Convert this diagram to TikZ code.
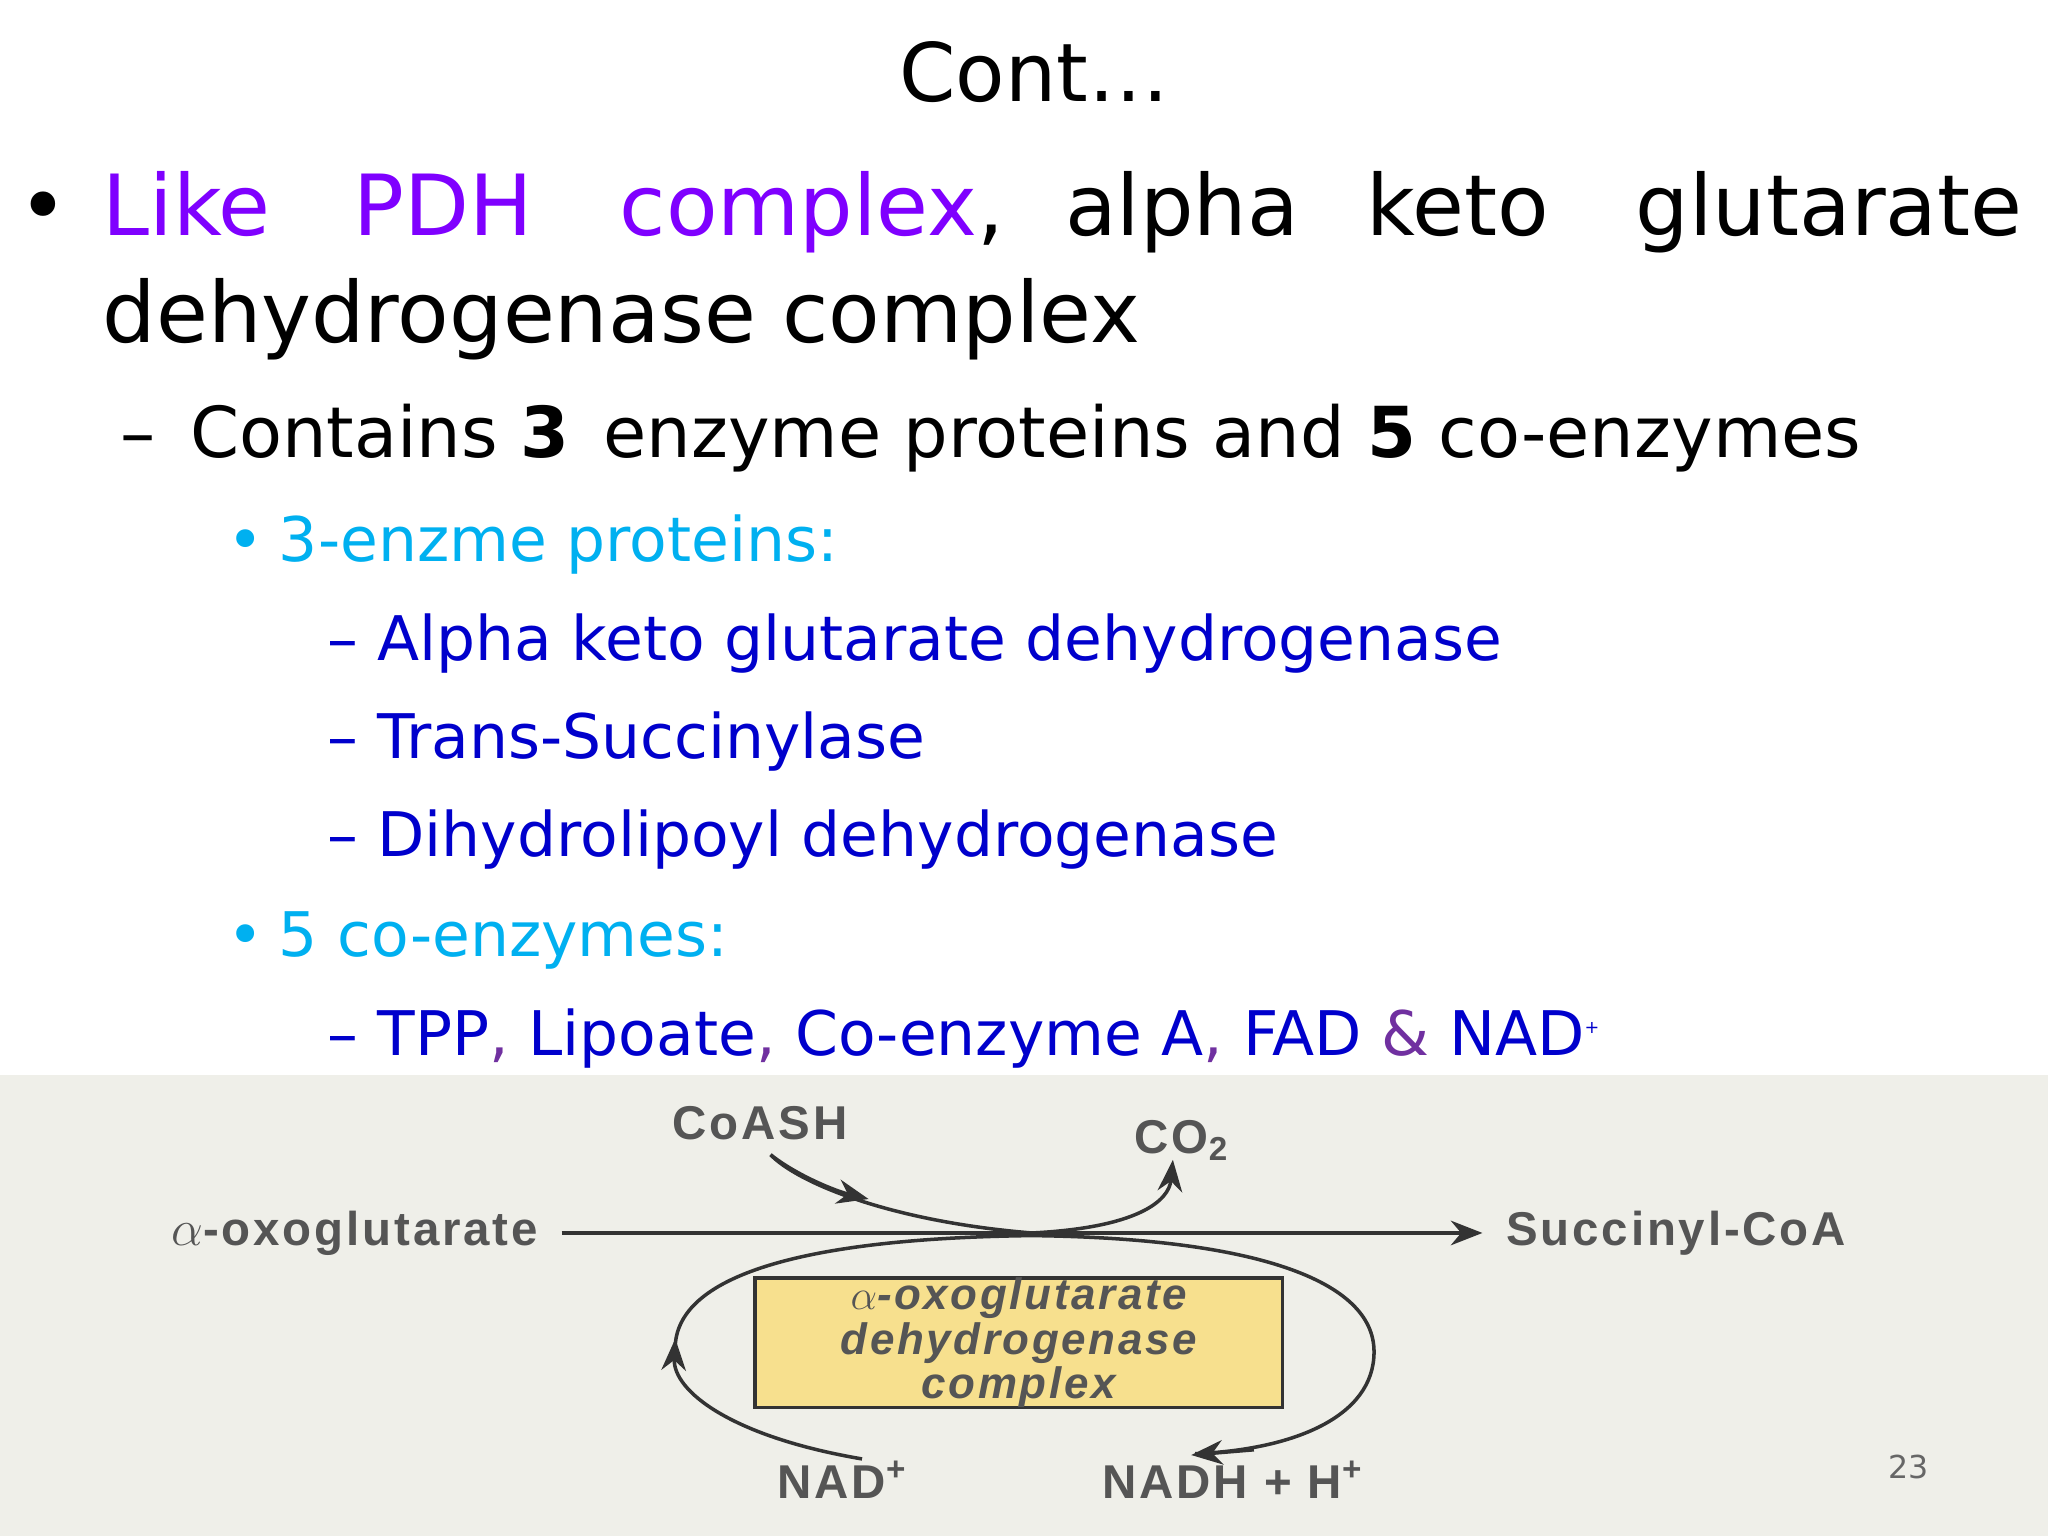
\documentclass[tikz,border=0pt]{standalone}
\usepackage{fontspec}
\setmainfont{DejaVu Sans}
\newfontfamily\dia[LetterSpace=6]{Liberation Sans}
\usetikzlibrary{arrows.meta,calc}
\definecolor{purp}{HTML}{7F00FF}
\definecolor{cyanb}{HTML}{00B0F0}
\definecolor{blu}{HTML}{0000CC}
\definecolor{vio}{HTML}{7030A0}
\definecolor{panel}{HTML}{EFEFE9}
\definecolor{diag}{HTML}{555555}
\definecolor{boxy}{HTML}{F7E08E}
\tikzset{
 t/.style={anchor=base west,inner sep=0pt},
 l1/.style={t,font=\fontsize{24}{30}\selectfont},
 l2/.style={t,font=\fontsize{20}{25}\selectfont},
 l3/.style={t,font=\fontsize{17.5}{22}\selectfont},
 dl/.style={font=\dia\bfseries\fontsize{13.5}{14}\selectfont,text=diag,inner sep=1pt},
 dline/.style={draw=black!80,line width=1pt},
 arr/.style={dline,-{Stealth[length=9pt,width=7pt]}}
}
\begin{document}
\begin{tikzpicture}[x=0.01306cm,y=-0.01306cm]
\useasboundingbox (0,0) rectangle (1568,1176);
\fill[white] (0,0) rectangle (1568,1176);
\fill[panel] (0,823) rectangle (1568,1176);
\node[t,font=\fontsize{23}{28}\selectfont] (title) at (688,78) {Cont…};
% line 1
\node[l1] (b1) at (14,180) {•};
\node[l1,text=purp] (w1) at (78,180) {Like};
\node[l1,text=purp] (w2) at (270,180) {PDH};
\node[l1,text=purp] (w3) at (474,180) {complex};
\node[l1] (w3c) at (748,180) {,};
\node[l1] (w4) at (815,180) {alpha};
\node[l1] (w5) at (1046,180) {keto};
\node[l1] (w6) at (1252,180) {glutarate};
\node[l1] (w7) at (78,262) {dehydrogenase complex};
\node[l2] (d1) at (92,350) {–};
\node[l2] (c1) at (145,350) {Contains \textbf{3}\, enzyme proteins and \textbf{5} co-enzymes};
\node[l3,text=cyanb] (b2) at (174,430) {•};
\node[l3,text=cyanb] (s1) at (213,430) {3-enzme proteins:};
\node[l3,text=blu] (e1) at (250,506) {– Alpha keto glutarate dehydrogenase};
\node[l3,text=blu] (e2) at (250,581) {– Trans-Succinylase};
\node[l3,text=blu] (e3) at (250,656) {– Dihydrolipoyl dehydrogenase};
\node[l3,text=cyanb] (b3) at (174,732) {•};
\node[l3,text=cyanb] (s2) at (213,732) {5 co-enzymes:};
\node[l3,text=blu] (e4) at (250,808) {– TPP{\color{vio},} Lipoate{\color{vio},} Co-enzyme A{\color{vio},} FAD {\color{vio}\&} NAD\textsuperscript{\tiny +}};
% diagram
\node[dl,anchor=east] (ox) at (415,944) {$\alpha$-oxoglutarate};
\node[dl,anchor=west] (sc) at (1150,944) {Succinyl-CoA};
\node[dl] (coa) at (582,860) {CoASH};
\node[dl] (co2) at (905,873) {CO\textsubscript{2}};
\node[dl] (nad) at (645,1133) {NAD\textsuperscript{+}};
\node[dl] (nadh) at (944,1133) {NADH + H\textsuperscript{+}};
\coordinate (m) at (790,944);
\draw[arr] ($(ox.east)+(15,0)$) -- ($(sc.west)+(-15,0)$);
\draw[dline] ($(coa.south)+(8,8)$) .. controls (610,905) and (680,935) .. (m);
\draw[arr] ($(coa.south)+(8,8)$) .. controls (610,900) and (640,912) .. (665,918);
\draw[arr] (m) .. controls (870,940) and (895,920) .. (898,888);
\node[draw=black!80,line width=1pt,fill=boxy,minimum width=404*0.01306cm,minimum height=70*0.01306cm,align=center,font=\dia\bfseries\itshape\fontsize{12.5}{8.5}\selectfont,text=diag,inner sep=0pt] (box) at (780,1028) {$\alpha$-oxoglutarate\\dehydrogenase\\complex};
\draw[arr] (660,1117) .. controls (560,1100) and (515,1065) .. (517,1025);
\draw[dline] (517,1030) .. controls (520,975) and (620,948) .. (790,946) .. controls (960,948) and (1052,980) .. (1052,1035) .. controls (1052,1085) and (990,1110) .. (915,1113);
\draw[arr] (960,1110) -- (912,1114);
\node[font=\fontsize{9}{10}\selectfont,text=black!60] (pg) at (1461,1123) {23};
\end{tikzpicture}
\end{document}
